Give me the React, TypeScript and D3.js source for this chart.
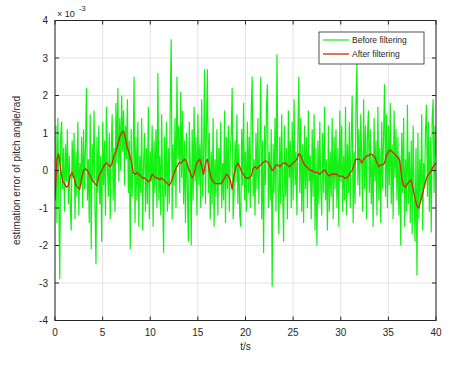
import React from "react";
import * as d3 from "d3";

const xTicks = [0, 5, 10, 15, 20, 25, 30, 35, 40];
const yTicks = [-4, -3, -2, -1, 0, 1, 2, 3, 4];
const seriesNames = ["Before filtering", "After filtering"];

// estimation error (x 1e-3 rad), sampled every 0.1 s from 0 to 40 s
const beforeFiltering = [
  -0.6, 1.2, -1.4, 1.4, -0.8, -2.9, 0.9, 1.3, -0.5, 0.6,
  -1.1, 0.7, -0.3, 1.1, -0.9, 0.4, -1.0, -1.6, 0.8, -0.2,
  1.0, -1.3, 0.5, -0.7, 1.3, -1.2, 0.2, -0.4, 0.9, -1.0,
  1.1, -0.5, 0.6, 2.2, -0.8, 0.3, -1.4, 1.5, -2.1, 0.7,
  -0.3, 1.6, -1.0, -2.5, 0.9, -0.6, 1.2, -0.9, 0.4, -1.9,
  1.3, -0.4, 0.8, -1.2, 1.7, 0.1, -0.7, 1.0, -1.3, 0.5,
  1.5, -0.8, 0.6, -1.1, 1.8, 0.2, 2.2, -0.3, 1.4, 0.0,
  2.0, 0.5, 1.6, -0.4, 1.2, 0.3, 1.9, -0.6, 0.8, -2.1,
  1.1, -0.7, 0.3, 2.5, -1.4, 0.9, -0.8, 1.3, -1.5, 0.4,
  -0.6, 1.4, -1.6, 0.2, 1.0, -1.1, 0.6, -0.9, 1.7, -1.3,
  0.5, -0.3, 1.2, -1.5, 0.8, -0.6, 1.1, -1.0, 2.6, -0.8,
  0.4, -1.2, 1.5, -0.5, -2.2, 0.9, -0.7, 1.3, -1.1, 0.6,
  -0.9, 1.8, 3.5, -1.3, 0.7, -0.4, 1.4, -1.0, 2.5, 0.3,
  1.2, -0.6, 2.1, -0.2, 1.6, -0.9, 0.8, -1.4, 1.0, -0.5,
  -1.9, 1.3, 0.2, -2.0, 1.1, -0.8, 1.7, -0.3, 0.9, -1.2,
  1.5, -0.4, 0.7, -1.0, 1.9, -0.7, 0.4, 2.7, -0.9, 1.2,
  2.7, -0.6, 1.0, -1.3, 0.5, -0.9, 1.4, -1.5, 0.3, -0.7,
  1.1, -1.2, 0.6, -0.4, 1.3, -1.0, 0.2, -0.8, 1.6, -1.4,
  0.9, -0.5, 1.2, -1.1, 0.4, 1.0, 2.2, -1.3, -0.6, 0.8,
  -0.3, 1.5, -0.9, 0.7, -1.2, -1.5, 1.1, -0.4, 1.8, -0.8,
  0.5, -1.1, 1.3, -0.6, 0.9, -1.0, 1.6, 2.5, -0.7, 0.3,
  -1.2, 1.0, -0.5, 1.4, -0.9, 0.6, 2.5, -1.3, 0.8, -2.2,
  1.2, -0.4, 1.7, 2.3, -1.0, 0.5, -0.8, 1.1, -3.1, 0.7,
  -0.6, 1.4, -1.1, 3.1, -0.3, -1.7, 0.9, -0.9, 1.5, -0.5,
  -1.9, 1.2, -0.7, 0.6, -1.3, 1.6, -0.2, 0.8, -1.0, 1.3,
  -0.8, 1.9, -0.4, 0.5, -1.2, 1.0, 2.5, -0.6, 1.4, -1.1,
  0.7, -1.4, 1.2, -0.5, 0.9, -1.0, 1.6, -0.3, 0.4, -1.3,
  1.1, -0.7, 1.5, -1.6, 0.6, -2.0, 0.8, -0.9, 1.3, -0.4,
  -1.2, 1.0, -0.6, 1.7, -0.8, 0.3, -1.6, 1.2, -1.1, 0.5,
  -0.7, 1.4, -1.3, 0.9, -0.5, 1.1, -1.0, 0.6, -1.5, 1.6,
  -0.3, 1.2, -1.1, 0.4, -0.8, 1.7, -1.2, 0.7, -0.6, 1.3,
  -1.0, 0.8, 2.0, -1.4, 0.5, -0.9, 1.8, 2.85, -0.4, 1.1,
  -0.7, 1.5, 0.3, -1.1, 1.9, -0.5, 1.2, -1.3, 0.9, 1.6,
  -0.6, 1.1, -0.9, 0.4, -1.5, 1.4, -0.3, 0.8, -1.2, 1.7,
  -0.8, 0.6, -1.4, 1.3, -0.5, 1.0, 2.3, -0.7, 1.5, -1.0,
  1.2, -0.4, 1.8, -0.9, 0.7, -1.3, 1.6, -0.2, 1.1, -0.8,
  0.9, -1.2, 0.4, -2.0, 1.0, -0.6, 1.4, -1.5, 0.3, -1.1,
  1.75, -0.9, 0.5, -1.4, 0.8, -1.7, 1.2, -0.5, -1.9, 0.6,
  -2.8, 1.0, -1.3, 0.3, -0.8, 1.5, -1.6, 0.2, -0.4, 1.1,
  1.75, -0.7, 1.3, -1.1, 0.9, -1.65, 1.4, 1.9, -0.6, 1.2,
  0.4,
];

// filtered estimate (x 1e-3 rad), sampled every 0.2 s from 0 to 40 s
const afterFiltering = [
  -0.8, 0.3, 0.45, 0.0, -0.3, -0.35, -0.45, -0.4, -0.15, -0.05,
  -0.2, -0.4, -0.45, -0.5, -0.2, 0.0, 0.05, 0.0, -0.1, -0.2,
  -0.3, -0.35, -0.4, -0.15, -0.05, 0.05, 0.15, 0.2, 0.15, 0.1,
  0.2, 0.4, 0.5, 0.7, 0.9, 1.0, 1.05, 0.85, 0.6, 0.45,
  0.25, -0.05, -0.1, -0.05, -0.1, -0.15, -0.2, -0.2, -0.25, -0.3,
  -0.25, -0.1, -0.15, -0.2, -0.2, -0.25, -0.2, -0.25, -0.3, -0.35,
  -0.4, -0.3, -0.15, 0.0, 0.1, 0.2, 0.2, 0.25, 0.3, 0.25,
  0.05, -0.05, -0.2, -0.1, 0.15, 0.25, 0.3, 0.1, -0.1, 0.2,
  0.3, 0.0, -0.2, -0.3, -0.35, -0.35, -0.35, -0.35, -0.3, -0.2,
  -0.1, -0.15, -0.25, -0.5, -0.1, 0.1, 0.2, 0.1, -0.05, -0.1,
  -0.2, -0.2, -0.2, -0.15, 0.05, 0.1, 0.05, 0.1, 0.15, 0.2,
  0.25, 0.25, 0.2, 0.1, 0.0, 0.05, 0.15, 0.15, 0.1, 0.15,
  0.2, 0.2, 0.15, 0.1, 0.15, 0.2, 0.25, 0.3, 0.45, 0.4,
  0.25, 0.15, 0.1, 0.05, 0.0, 0.0, -0.05, -0.05, -0.05, -0.1,
  -0.05, 0.0, 0.0, -0.1, -0.15, -0.1, -0.1, -0.1, -0.1, -0.15,
  -0.15, -0.15, -0.2, -0.2, -0.15, -0.05, 0.0, 0.15, 0.3, 0.3,
  0.3, 0.2, 0.3, 0.35, 0.4, 0.4, 0.45, 0.4, 0.35, 0.2,
  0.1, 0.15, 0.15, 0.2, 0.4, 0.5, 0.55, 0.5, 0.45, 0.4,
  0.35, 0.25, -0.2, -0.4, -0.45, -0.35, -0.3, -0.25, -0.5, -0.75,
  -0.95, -1.0, -0.8, -0.6, -0.4, -0.2, -0.1, -0.05, 0.05, 0.15,
  0.2,
];

const W = 474;
const H = 370;
const margin = { left: 55, right: 38, top: 20.5, bottom: 49.5 };
const FONT = "'Liberation Sans', Arial, Helvetica, sans-serif";

export default function App() {
  const x = d3.scaleLinear().domain([0, 40]).range([margin.left, W - margin.right]);
  const y = d3.scaleLinear().domain([-4, 4]).range([H - margin.bottom, margin.top]);
  const x0 = x(0), x1 = x(40), y0 = y(-4), y1 = y(4);

  const toPts = (arr: number[]) =>
    arr.map((v, i) => [(i * 40) / (arr.length - 1), v] as [number, number]);
  const line = d3
    .line<[number, number]>()
    .x((d) => x(d[0]))
    .y((d) => y(d[1]));

  const tickLen = 4;
  const axisColor = "#262626";
  const gridColor = "#e3e3e3";
  const green = "#14f014";
  const red = "#cc2a0a";

  const legX = 319, legY = 32, legW = 105, legH = 32;

  return (
    <svg
      width={W}
      height={H}
      style={{ position: "absolute", left: 0, top: 0, background: "#fff" }}
      fontFamily={FONT}
    >
      <defs>
        <clipPath id="plotclip">
          <rect x={x0} y={y1} width={x1 - x0} height={y0 - y1} />
        </clipPath>
      </defs>
      <rect x={x0} y={y1} width={x1 - x0} height={y0 - y1} fill="#fff" />
      {xTicks.map((t) => (
        <line key={"gx" + t} x1={x(t)} x2={x(t)} y1={y1} y2={y0} stroke={gridColor} strokeWidth={1} />
      ))}
      {yTicks.map((t) => (
        <line key={"gy" + t} x1={x0} x2={x1} y1={y(t)} y2={y(t)} stroke={gridColor} strokeWidth={1} />
      ))}
      <g clipPath="url(#plotclip)">
        <path d={line(toPts(beforeFiltering)) || ""} fill="none" stroke={green} strokeWidth={1.2} />
        <path d={line(toPts(afterFiltering)) || ""} fill="none" stroke={red} strokeWidth={1.3} strokeLinejoin="round" />
      </g>
      <rect x={x0} y={y1} width={x1 - x0} height={y0 - y1} fill="none" stroke={axisColor} strokeWidth={1} />
      {xTicks.map((t) => (
        <g key={"tx" + t}>
          <line x1={x(t)} x2={x(t)} y1={y0} y2={y0 - tickLen} stroke={axisColor} />
          <line x1={x(t)} x2={x(t)} y1={y1} y2={y1 + tickLen} stroke={axisColor} />
          <text x={x(t)} y={y0 + 15} textAnchor="middle" fontSize={10} fill="#262626">
            {t}
          </text>
        </g>
      ))}
      {yTicks.map((t) => (
        <g key={"ty" + t}>
          <line x1={x0} x2={x0 + tickLen} y1={y(t)} y2={y(t)} stroke={axisColor} />
          <line x1={x1} x2={x1 - tickLen} y1={y(t)} y2={y(t)} stroke={axisColor} />
          <text x={x0 - 7} y={y(t) + 3.5} textAnchor="end" fontSize={10} fill="#262626">
            {t}
          </text>
        </g>
      ))}
      <text x={57} y={17} fontSize={9} fill="#262626">
        × 10
      </text>
      <text x={79} y={11} fontSize={7.5} fill="#262626">
        -3
      </text>
      <text x={(x0 + x1) / 2} y={350} textAnchor="middle" fontSize={10} fill="#262626">
        t/s
      </text>
      <text
        transform={`translate(20,${(y0 + y1) / 2}) rotate(-90)`}
        textAnchor="middle"
        fontSize={10}
        fill="#262626"
      >
        estimation error of pitch angle/rad
      </text>
      <rect x={legX} y={legY} width={legW} height={legH} fill="#fff" stroke={axisColor} strokeWidth={0.8} />
      <line x1={legX + 4} x2={legX + 30} y1={legY + 8} y2={legY + 8} stroke={green} strokeWidth={1.2} />
      <line x1={legX + 4} x2={legX + 30} y1={legY + 22} y2={legY + 22} stroke={red} strokeWidth={1.3} />
      <text x={legX + 33} y={legY + 11} fontSize={8.5} fill="#262626">
        {seriesNames[0]}
      </text>
      <text x={legX + 33} y={legY + 25} fontSize={8.5} fill="#262626">
        {seriesNames[1]}
      </text>
    </svg>
  );
}
